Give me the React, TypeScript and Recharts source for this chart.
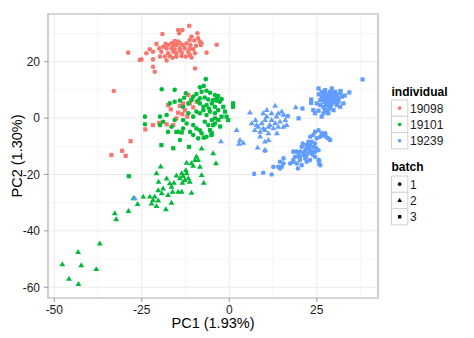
import React from 'react';
import { ScatterChart, Scatter, XAxis, YAxis, CartesianGrid, ReferenceArea } from 'recharts';

type P = [number, number];

const RED = '#F8766D';
const GREEN = '#00BA38';
const BLUE = '#619CFF';

const xTicks = [-50, -25, 0, 25];
const yTicks = [-60, -40, -20, 0, 20];
const xMinor = [-37.5, -12.5, 12.5, 37.5];
const yMinor = [-50, -30, -10, 10, 30];
const individuals = ['19098', '19101', '19239'];
const batches = ['1', '2', '3'];

const red_b1: P[] = [
  [-11.45, 32.7], [-14.6, 31.2], [-13.4, 31.2], [-14.3, 30.1], [-19.1, 29.8], [-9.1, 30.1], [-10.8, 28.9],
  [-8.9, 28.3], [-11.3, 27.7], [-10.0, 27.5], [-8.4, 27.1], [-7.9, 26.5], [-15.6, 27.3], [-16.5, 26.5],
  [-14.6, 27.1], [-14.1, 26.5], [-20.8, 26.3], [-18.2, 26.3], [-17.5, 25.9], [-16.0, 25.9], [-15.1, 25.9],
  [-13.2, 25.9], [-12.2, 26.5], [-11.1, 25.9], [-9.5, 25.6], [-8.1, 25.9], [-3.6, 26.0], [-22.7, 24.4],
  [-20.0, 24.7], [-18.9, 25.3], [-17.9, 24.7], [-16.5, 24.7], [-15.6, 24.4], [-14.1, 24.7], [-12.7, 24.7],
  [-11.3, 24.7], [-10.3, 24.4], [-23.7, 23.0], [-21.8, 23.5], [-19.4, 23.5], [-17.5, 23.0], [-16.0, 23.5],
  [-13.6, 23.2], [-11.7, 23.5], [-9.8, 23.0], [-6.5, 23.2], [-28.9, 23.2], [-25.6, 20.6], [-25.1, 20.8],
  [-21.8, 20.8], [-19.8, 21.8], [-18.4, 21.8], [-17.0, 22.0], [-16.2, 21.4], [-15.1, 21.8], [-13.6, 22.0],
  [-12.4, 21.8], [-11.3, 22.4], [-10.8, 21.5], [-17.9, 20.4], [-21.8, 18.2], [-21.3, 16.4], [-9.8, 17.6],
  [-14.1, 24.1], [-15.1, 23.0], [-33.0, 9.6],
];

const red_b3: P[] = [
  [-17.5, 4.6], [-16.7, 3.1], [-14.1, 4.3], [-14.6, 1.9], [-13.4, 1.4], [-12.0, 0.5], [-12.7, 2.8],
  [-11.3, 5.2], [-10.3, 3.8], [-10.8, 6.6], [-9.35, 5.8], [-11.7, 8.2], [-15.1, -0.1], [-21.8, -2.5],
  [-24.0, -4.0], [-17.9, -2.2], [-20.0, -1.7], [-16.0, -2.5], [-28.2, -8.2], [-13.2, 5.2], [-33.7, -13.1],
  [-30.6, -11.6], [-29.6, -13.4],
];

const green_b1: P[] = [
  [-6.7, 13.8], [-19.3, 10.2], [-15.6, 10.0], [-8.4, 10.9], [-7.3, 11.4], [-12.4, 8.8], [-9.4, 8.5],
  [-7.9, 9.3], [-6.5, 9.7], [-5.5, 9.0], [-4.1, 8.2], [-3.2, 7.8], [-10.3, 7.6], [-8.4, 7.0], [-7.0, 7.3],
  [-6.0, 6.6], [-4.6, 6.4], [-3.6, 7.0], [-2.7, 5.8], [-10.8, 6.4], [-11.7, 5.2], [-14.1, 6.2], [-15.6, 5.8],
  [-17.0, 5.2], [-13.2, 4.0], [-8.4, 5.2], [-7.4, 4.0], [-6.5, 4.6], [-5.0, 5.2], [-4.1, 4.0], [-7.4, 2.8],
  [-9.4, 2.3], [-8.4, 1.7], [-5.5, 2.3], [-6.5, 1.1], [-11.7, 1.7], [-10.3, 0.5], [-13.2, -0.7], [-15.6, -0.7],
  [-17.9, 1.1], [-19.8, 0.5], [-18.9, -1.3], [-24.1, 0.5], [-24.1, -2.2], [-19.8, -2.5], [-17.5, -4.9],
  [-16.5, -3.1], [-14.6, -4.9], [-13.2, -3.7], [-12.2, -1.9], [-10.3, -2.5], [-9.4, -3.7], [-8.4, -4.3],
  [-11.2, -4.9], [-10.3, -6.0], [-6.5, -6.6], [-8.9, -7.2], [-7.9, -5.4], [-14.1, -7.8], [-4.1, 1.7],
  [-3.2, 2.8], [-5.0, -0.7], [-7.0, -1.3], [-6.0, -2.5], [-4.1, -1.9], [-9.0, 6.0], [-5.8, 3.4],
  [-2.2, 6.7], [-12.9, 7.2],
];

const green_b2: P[] = [
  [-19.6, -17.2], [-20.8, -19.6], [-20.2, -22.6], [-17.9, -21.5], [-17.0, -23.2], [-16.5, -24.4],
  [-15.8, -23.0], [-15.1, -20.4], [-14.1, -21.4], [-13.6, -19.6], [-13.2, -20.6], [-12.7, -22.0],
  [-12.2, -19.6], [-11.7, -21.4], [-11.3, -22.6], [-12.2, -15.9], [-10.8, -16.1], [-9.8, -14.9],
  [-9.4, -13.7], [-8.9, -14.9], [-8.4, -17.3], [-7.9, -20.2], [-7.3, -23.0], [-13.4, -23.0],
  [-14.6, -26.2], [-16.2, -26.2], [-13.6, -26.2], [-10.8, -26.5], [-17.5, -27.3], [-18.9, -25.0],
  [-19.3, -26.7], [-20.3, -25.6], [-21.3, -27.9], [-21.8, -29.1], [-22.7, -27.9], [-22.2, -30.3],
  [-20.8, -31.2], [-20.3, -29.3], [-18.1, -32.4], [-16.5, -30.1], [-24.6, -27.9], [-27.4, -28.5],
  [-26.2, -30.5], [-28.8, -33.0], [-32.7, -33.8], [-32.3, -35.9], [-37.0, -44.5], [-43.2, -47.5],
  [-47.7, -51.9], [-42.3, -52.2], [-38.0, -53.6], [-45.8, -57.0], [-43.1, -58.9], [-4.6, -12.5],
  [-3.8, -16.1], [-12.4, -18.5], [-10.3, -17.0], [-7.9, -10.8],
];

const green_b3: P[] = [
  [-1.7, 4.0], [-1.2, 2.3], [-0.8, 0.5], [-2.2, 0.5], [-0.3, -0.7], [1.1, 5.2], [1.1, 4.0], [-4.1, -0.1],
  [-3.1, -0.7], [-15.1, -4.9], [-13.6, -5.1], [-4.6, -2.5], [-5.0, -5.4], [-5.5, -4.3], [-19.4, -9.6],
  [-16.0, -10.7], [-11.5, -10.2], [-28.7, -20.6], [-5.1, -6.0], [-7.3, -6.9], [-3.6, 6.2], [-2.6, -3.0],
];

const blue_b1: P[] = [
  [24.5, -4.9], [25.5, -4.3], [26.4, -5.4], [27.4, -6.0], [28.8, -7.8], [24.0, -6.0], [23.1, -6.6],
  [22.6, -8.4], [22.1, -9.6], [23.6, -8.4], [24.5, -9.0], [25.0, -7.2], [26.0, -6.6], [24.0, -10.2],
  [23.1, -11.4], [21.7, -11.4], [20.7, -10.2], [20.2, -11.9], [19.3, -11.9], [18.3, -11.9], [18.8, -13.7],
  [19.8, -13.7], [21.2, -13.1], [22.6, -12.5], [23.6, -11.9], [24.5, -11.9], [25.5, -11.4], [21.7, -14.3],
  [20.2, -14.9], [19.3, -16.1], [20.7, -16.7], [22.1, -15.5], [23.1, -14.9], [18.3, -14.9], [17.4, -16.1],
  [15.5, -14.3], [14.5, -15.5], [12.6, -17.3], [14.5, -17.9], [15.0, -17.3], [25.5, -14.9], [26.0, -16.7],
  [10.2, -11.6], [24.5, -13.7], [7.1, -19.8], [9.7, -19.4], [12.1, -20.0], [14.0, -17.3], [15.5, -16.1],
  [18.3, -15.5], [19.6, -17.9], [25.7, -16.3], [25.7, -15.1], [28.3, -7.2], [28.8, -7.8], [27.4, -5.4],
  [20.2, -13.7], [22.1, -10.5], [23.0, -9.4], [21.3, -12.2], [21.0, -9.0], [22.8, -10.6], [19.8, -12.6],
  [23.8, -13.0], [22.0, -13.6], [24.8, -10.6], [26.6, -6.2], [27.8, -6.8],
];

const blue_b2: P[] = [
  [5.9, 1.9], [2.1, -4.3], [3.05, -7.8], [4.0, -8.8], [2.8, -9.2], [8.1, -10.5], [10.2, -8.4], [11.2, -7.8],
  [8.8, -6.6], [11.2, -5.4], [13.6, -5.4], [8.3, -3.1], [9.3, -1.9], [10.2, -0.7], [10.7, 0.5], [9.7, 1.7],
  [10.7, 2.8], [13.1, 4.3], [14.0, 1.7], [15.0, 2.3], [15.5, 1.1], [16.0, -0.7], [14.5, -1.3], [13.1, -1.9],
  [12.1, -0.7], [11.6, -2.5], [12.6, -3.7], [15.5, -3.1], [16.4, -2.5], [7.3, -4.3], [7.8, -2.5], [8.8, -4.9],
  [9.7, -3.7], [10.2, -4.3], [11.2, -3.1], [13.5, 0.5], [12.1, 1.7], [19.0, 3.8], [14.0, -3.1], [6.4, -1.9],
  [7.5, -0.7], [10.2, -11.4], [-2.4, -8.3], [-27.0, -28.5],
];

const blue_b3: P[] = [
  [25.5, 10.5], [23.4, 6.6], [23.4, 5.4], [24.0, 2.8], [25.5, 2.6], [26.4, 0.5], [26.9, 1.7], [27.9, 2.3],
  [34.3, 9.1], [38.1, 13.7], [32.6, 5.2], [32.2, 7.6], [31.7, 8.8], [30.7, 8.2], [29.3, 10.5], [28.8, 9.3],
  [27.4, 8.8], [26.4, 7.6], [26.0, 6.4], [26.9, 5.8], [27.4, 7.0], [28.3, 7.6], [29.8, 7.6], [30.3, 6.4],
  [31.2, 5.8], [31.7, 4.0], [30.7, 4.6], [29.3, 5.2], [28.3, 5.8], [27.9, 4.6], [26.9, 4.0], [26.0, 4.6],
  [28.8, 3.4], [29.8, 2.8], [27.4, 2.8], [28.3, 1.7], [29.3, 6.6], [30.3, 9.3], [31.2, 7.0], [26.4, 9.3],
  [25.0, 5.2], [24.5, 1.7], [16.7, 0.7], [19.8, -0.1], [20.9, 3.4], [27.4, 9.9], [27.9, 6.4],
  [27.0, 8.2], [28.0, 8.4], [29.0, 8.0], [29.6, 9.0], [30.0, 7.0], [28.6, 7.0], [27.6, 5.4], [26.6, 6.8],
  [29.0, 4.4], [30.2, 5.6], [27.2, 3.6], [28.0, 3.0], [25.6, 8.4], [31.8, 9.6], [33.0, 8.0],
];

const toObj = (a: P[]) => a.map(([x, y]) => ({ x, y }));

const CircleShape = (props: any) => {
  const { cx, cy, fill } = props;
  if (cx == null || cy == null) return <g />;
  return <circle cx={cx} cy={cy} r={2.3} fill={fill} />;
};
const TriShape = (props: any) => {
  const { cx, cy, fill } = props;
  if (cx == null || cy == null) return <g />;
  const s = 3.1;
  return <polygon points={`${cx},${cy - s} ${cx - s * 0.95},${cy + s * 0.6} ${cx + s * 0.95},${cy + s * 0.6}`} fill={fill} />;
};
const SqShape = (props: any) => {
  const { cx, cy, fill } = props;
  if (cx == null || cy == null) return <g />;
  return <rect x={cx - 2.1} y={cy - 2.1} width={4.2} height={4.2} fill={fill} />;
};

const FONT = '"Liberation Sans", Arial, Helvetica, sans-serif';
const XDOM: [number, number] = [-51.8, 42.5];
const YDOM: [number, number] = [-63.8, 36.9];

const series = [
  { data: red_b1, fill: RED, shape: CircleShape },
  { data: red_b3, fill: RED, shape: SqShape },
  { data: green_b1, fill: GREEN, shape: CircleShape },
  { data: green_b2, fill: GREEN, shape: TriShape },
  { data: green_b3, fill: GREEN, shape: SqShape },
  { data: blue_b1, fill: BLUE, shape: CircleShape },
  { data: blue_b2, fill: BLUE, shape: TriShape },
  { data: blue_b3, fill: BLUE, shape: SqShape },
];

const indColors = [RED, GREEN, BLUE];

export default function App() {
  const keyX = 391.5;
  const keyW = 16.3;
  const indTop = 100;
  const batTop = 176;
  return (
    <div style={{ position: 'absolute', left: 0, top: 0, width: 474, height: 338, background: '#fff' }}>
      <ScatterChart width={474} height={338} margin={{ top: 14, right: 96, left: 0, bottom: 0 }}>
        <CartesianGrid stroke="#f6f6f6" verticalValues={xMinor} horizontalValues={yMinor} fill="none" />
        <CartesianGrid stroke="#ebebeb" verticalValues={xTicks} horizontalValues={yTicks} fill="none" />
        <XAxis
          type="number"
          dataKey="x"
          domain={XDOM}
          ticks={xTicks}
          allowDataOverflow
          height={40}
          axisLine={false}
          tickSize={4}
          tickMargin={3}
          tickLine={{ stroke: '#9a9a9a' }}
          tick={{ fill: '#1a1a1a', fontSize: 12, fontFamily: FONT }}
        />
        <YAxis
          type="number"
          dataKey="y"
          domain={YDOM}
          ticks={yTicks}
          allowDataOverflow
          width={48}
          axisLine={false}
          tickSize={4}
          tickMargin={4}
          tickLine={{ stroke: '#9a9a9a' }}
          tick={{ fill: '#1a1a1a', fontSize: 12, fontFamily: FONT }}
        />
        {series.map((s, i) => (
          <Scatter key={i} data={toObj(s.data)} fill={s.fill} shape={s.shape} isAnimationActive={false} />
        ))}
        <ReferenceArea x1={XDOM[0]} x2={XDOM[1]} y1={YDOM[0]} y2={YDOM[1]} fill="none" fillOpacity={0} stroke="#b0b0b0" strokeWidth={1.2} />
      </ScatterChart>
      <svg width={474} height={338} style={{ position: 'absolute', left: 0, top: 0, pointerEvents: 'none' }}>
        <text x={213} y={327.5} textAnchor="middle" fontFamily={FONT} fontSize={14.5} fill="#000">PC1 (1.93%)</text>
        <text x={21.5} y={156} textAnchor="middle" fontFamily={FONT} fontSize={14.5} fill="#000" transform="rotate(-90 21.5 156)">PC2 (1.30%)</text>
        <text x={keyX} y={96} fontFamily={FONT} fontSize={12} fontWeight="bold" fill="#000">individual</text>
        {individuals.map((lab, i) => (
          <g key={lab}>
            <rect x={keyX} y={indTop + i * keyW} width={keyW} height={keyW} fill="#fff" stroke="#d2d2d2" strokeWidth={1} />
            <circle cx={keyX + keyW / 2} cy={indTop + i * keyW + keyW / 2} r={1.8} fill={indColors[i]} />
            <text x={410} y={indTop + i * keyW + 12.5} fontFamily={FONT} fontSize={12} fill="#1a1a1a">{lab}</text>
          </g>
        ))}
        <text x={keyX} y={170.7} fontFamily={FONT} fontSize={12} fontWeight="bold" fill="#000">batch</text>
        {batches.map((lab, i) => {
          const cx = keyX + keyW / 2;
          const cy = batTop + i * keyW + keyW / 2;
          return (
            <g key={lab}>
              <rect x={keyX} y={batTop + i * keyW} width={keyW} height={keyW} fill="#fff" stroke="#d2d2d2" strokeWidth={1} />
              {i === 0 && <circle cx={cx} cy={cy} r={1.8} fill="#000" />}
              {i === 1 && <polygon points={`${cx},${cy - 2.5} ${cx - 2.4},${cy + 1.6} ${cx + 2.4},${cy + 1.6}`} fill="#000" />}
              {i === 2 && <rect x={cx - 1.7} y={cy - 1.7} width={3.4} height={3.4} fill="#000" />}
              <text x={410} y={batTop + i * keyW + 12.5} fontFamily={FONT} fontSize={12} fill="#1a1a1a">{lab}</text>
            </g>
          );
        })}
      </svg>
    </div>
  );
}
